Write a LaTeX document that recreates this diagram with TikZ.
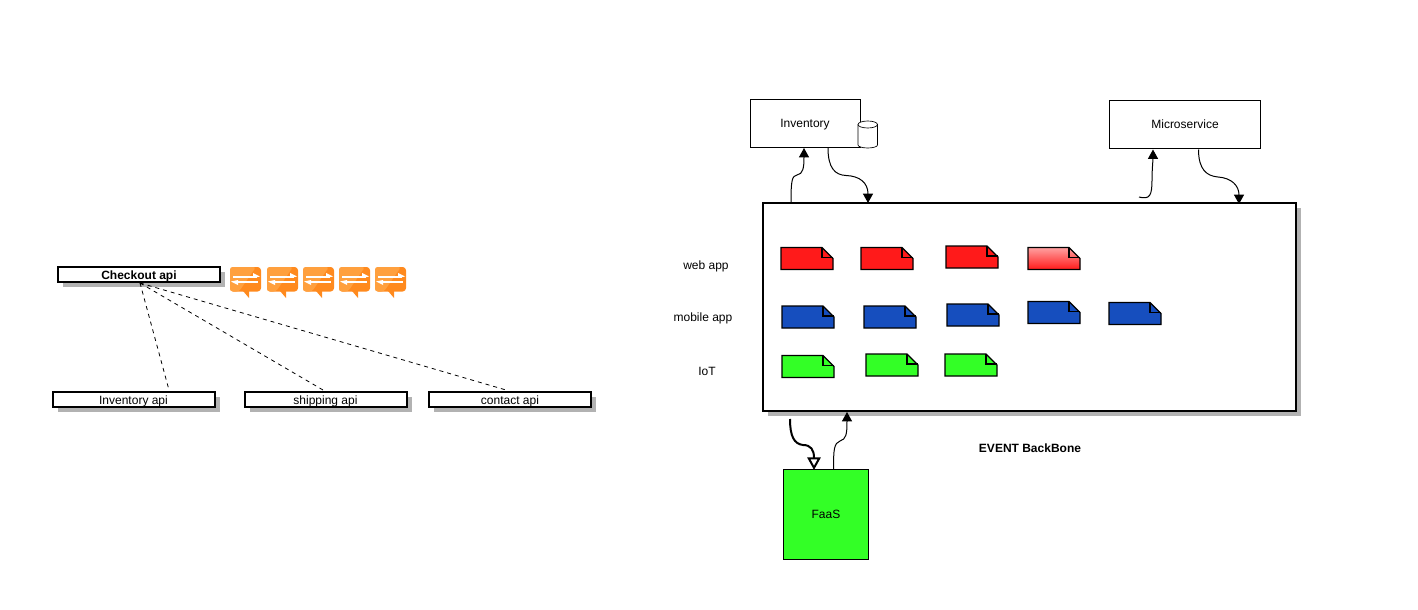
\documentclass[tikz,border=0pt]{standalone}
\usepackage{fontspec}
\setmainfont{Liberation Sans}
\usetikzlibrary{arrows.meta,shadows}
\definecolor{docred}{RGB}{255,26,26}
\definecolor{docpink}{RGB}{255,160,160}
\definecolor{docblue}{RGB}{22,78,190}
\definecolor{docgreen}{RGB}{51,255,38}
\definecolor{iconorange}{RGB}{255,138,30}
\definecolor{iconlight}{RGB}{255,160,62}
\tikzset{
  apibox/.style={draw,fill=white,line width=1.5pt,minimum width=121.5pt,minimum height=11.25pt,inner sep=0pt,text height=8.5pt,text depth=1.7pt,font=\fontsize{9}{10}\selectfont,drop shadow={shadow xshift=3.75pt,shadow yshift=-3.75pt,fill=black!30,opacity=1}},
  plainbox/.style={draw,fill=white,line width=0.75pt,inner sep=0pt,font=\fontsize{9}{10}\selectfont},
  textlabel/.style={inner sep=0.75pt,font=\fontsize{9}{10}\selectfont},
  thinarrow/.style={line width=0.75pt,-{Triangle[width=7.5pt,length=7pt]}},
  thickarrow/.style={line width=1.5pt,-{Triangle[open,fill=white,width=10pt,length=9.5pt]}},
  pics/docshape/.style={code={
    \draw [pic actions,line width=1pt] (0,0) -- (41,0) -- (52,11) -- (52,22) -- (0,22) -- cycle;
    \draw [line width=1pt] (41,0) -- (41,10) -- (52,10);
  }},
  pics/eventicon/.style={code={
    \fill [iconorange,rounded corners=2.5pt] (0,0) rectangle (31,24.5);
    \fill [iconorange] (13,24) -- (19,24) -- (19,31) -- cycle;
    \fill [iconlight,rounded corners=2pt] (0,0) -- (26,0) -- (9,24.5) -- (0,24.5) -- cycle;
    \draw [white,line width=1.5pt] (3,9.5) -- (27,9.5);
    \fill [white] (23,6) -- (30,9.5) -- (23,11) -- cycle;
    \draw [white,line width=1.5pt] (4,14.5) -- (28,14.5);
    \fill [white] (8,18) -- (1,14.5) -- (8,13) -- cycle;
  }}
}
\begin{document}
\begin{tikzpicture}[x=0.75pt,y=0.75pt,yscale=-1,xscale=1,every pic/.style={yscale=-1}]
\useasboundingbox (0,0) rectangle (1418,610);
% Api boxes
\node (checkout) [apibox] at (139,274.5) {\bfseries Checkout api};
\node (inventoryapi) [apibox] at (133.5,399.5) {Inventory api};
\node (shippingapi) [apibox] at (325.5,399.5) {shipping api};
\node (contactapi) [apibox] at (510,399.5) {contact api};
\coordinate (checkoutfoot) at (140,283);
\coordinate (inventoryapitop) at (169,390);
\coordinate (shippingapitop) at (323,390);
\coordinate (contactapitop) at (506,390);
% Dashed links
\draw [dashed,line width=0.6pt] (checkoutfoot) -- (inventoryapitop);
\draw [dashed,line width=0.6pt] (checkoutfoot) -- (shippingapitop);
\draw [dashed,line width=0.6pt] (checkoutfoot) -- (contactapitop);
% Event icons
\path (230,267) pic {eventicon};
\path (267,267) pic {eventicon};
\path (303,267) pic {eventicon};
\path (339,267) pic {eventicon};
\path (375,267) pic {eventicon};
% Backbone
\node (backbone) [draw,fill=white,line width=1.5pt,minimum width=399.75pt,minimum height=156pt,inner sep=0pt,drop shadow={shadow xshift=3.75pt,shadow yshift=-3.75pt,fill=black!30,opacity=1}] at (1029.5,306.5) {};
% Service boxes
\node (inventory) [plainbox,minimum width=82.5pt,minimum height=36pt,text height=7.5pt,text depth=1.7pt] at (805,123.5) {Inventory};
\node (microservice) [plainbox,minimum width=113.25pt,minimum height=36.25pt] at (1185,124.5) {Microservice};
\node (faas) [plainbox,fill=docgreen,minimum width=64pt,minimum height=67.5pt] at (826,514.5) {FaaS};
% Database
\draw [fill=white,line width=0.5pt] (858,124.5) -- (858,145) arc [start angle=180,end angle=0,x radius=9.75,y radius=3] -- (877.5,124.5);
\draw [fill=white,line width=0.5pt] (867.75,124.5) ellipse [x radius=9.75,y radius=3.5];
% Curve Lines
\coordinate (inventoryup) at (791,203);
\coordinate (inventorytip) at (804,148);
\coordinate (inventorydown) at (828,148);
\coordinate (inventoryland) at (868,203);
\coordinate (microup) at (1139,197);
\coordinate (microtip) at (1153,149.5);
\coordinate (microdown) at (1198.5,149.5);
\coordinate (microland) at (1239,204);
\coordinate (backboneout) at (790,419);
\coordinate (faastop) at (814,470);
\coordinate (faasup) at (833.5,469);
\coordinate (backboneland) at (847,412);
\draw [thinarrow] (inventoryup) .. controls (791,180) and (792,176) .. (797,175) .. controls (803,174) and (804,168) .. (inventorytip);
\draw [thinarrow] (inventorydown) .. controls (828,168) and (835,175) .. (846,175.5) .. controls (860,176) and (868,183) .. (inventoryland);
\draw [thinarrow] (microup) .. controls (1150,200) and (1152,195) .. (1152,180) .. controls (1152,170) and (1153,160) .. (microtip);
\draw [thinarrow] (microdown) .. controls (1198.5,170) and (1207,176) .. (1218,177) .. controls (1232,178) and (1239,186) .. (microland);
\draw [thickarrow] (backboneout) .. controls (790,436) and (794,444) .. (803,445) .. controls (811,445) and (814,450) .. (faastop);
\draw [thinarrow] (faasup) .. controls (833.5,450) and (834,443) .. (840,441) .. controls (846,439) and (847,435) .. (backboneland);
% Documents
\path (781,247.5) pic [fill=docred] {docshape};
\path (861,247.5) pic [fill=docred] {docshape};
\path (946,246) pic [fill=docred] {docshape};
\path (1028,247.5) pic [top color=docpink,bottom color=docred] {docshape};
\path (782,306) pic [fill=docblue] {docshape};
\path (864,306) pic [fill=docblue] {docshape};
\path (947,304) pic [fill=docblue] {docshape};
\path (1028,301.5) pic [fill=docblue] {docshape};
\path (1109,302.5) pic [fill=docblue] {docshape};
\path (782,355.5) pic [fill=docgreen] {docshape};
\path (866,354) pic [fill=docgreen] {docshape};
\path (945,354) pic [fill=docgreen] {docshape};
% Text Node
\node (webapp) [textlabel] at (706,266) {web app};
\node (mobileapp) [textlabel] at (703,318) {mobile app};
\node (iot) [textlabel] at (707,371) {IoT};
\node (backbonelabel) [textlabel] at (1030,448) {\bfseries EVENT BackBone};
\end{tikzpicture}
\end{document}
